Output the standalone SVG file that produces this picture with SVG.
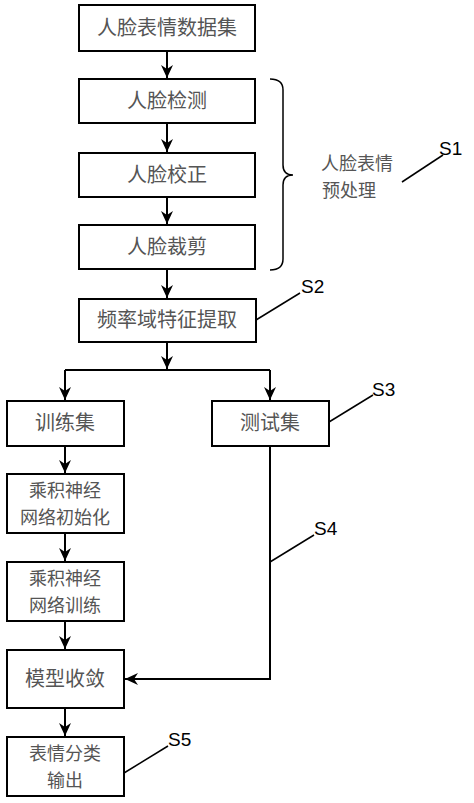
<svg xmlns="http://www.w3.org/2000/svg" width="474" height="803" viewBox="0 0 474 803">
<defs>
<marker id="ah" markerWidth="14" markerHeight="12" refX="13" refY="6" orient="auto" markerUnits="userSpaceOnUse" viewBox="0 0 14 12">
<path d="M0,0 L4,6 L0,12 L13,6 Z" fill="#000"/>
</marker>
</defs>
<style>
.box{fill:#fff;stroke:#000;stroke-width:2}
.t{font-family:"Noto Sans CJK SC",sans-serif;font-size:20px;fill:#555;text-anchor:middle}
.t2{font-family:"Noto Sans CJK SC",sans-serif;font-size:18px;fill:#555;text-anchor:middle}
.s{font-family:"Liberation Sans",Arial,sans-serif;font-size:19px;fill:#000}
.c{fill:none;stroke:#000;stroke-width:2}
.l{fill:none;stroke:#000;stroke-width:1.5}
</style>
<rect width="474" height="803" fill="#fff"/>
<g id="connectors">
<path class="c" d="M167,51 V78" marker-end="url(#ah)"/>
<path class="c" d="M167,123 V152" marker-end="url(#ah)"/>
<path class="c" d="M167,197 V224" marker-end="url(#ah)"/>
<path class="c" d="M167,269 V298" marker-end="url(#ah)"/>
<path class="c" d="M167,342 V369" marker-end="url(#ah)"/>
<path class="c" d="M65,370 H270"/>
<path class="c" d="M65,370 V400" marker-end="url(#ah)"/>
<path class="c" d="M270,370 V400" marker-end="url(#ah)"/>
<path class="c" d="M65,446 V473" marker-end="url(#ah)"/>
<path class="c" d="M65,533 V561" marker-end="url(#ah)"/>
<path class="c" d="M65,621 V649" marker-end="url(#ah)"/>
<path class="c" d="M65,708 V736" marker-end="url(#ah)"/>
<path class="c" d="M270,446 V679 H125" marker-end="url(#ah)"/>
</g>
<g id="n1"><rect class="box" x="79" y="5" width="176" height="46"/><text class="t" x="167" y="35">人脸表情数据集</text></g>
<g id="n2"><rect class="box" x="79" y="79" width="176" height="44"/><text class="t" x="167" y="108">人脸检测</text></g>
<g id="n3"><rect class="box" x="79" y="153" width="176" height="44"/><text class="t" x="167" y="182">人脸校正</text></g>
<g id="n4"><rect class="box" x="79" y="225" width="176" height="44"/><text class="t" x="167" y="254">人脸裁剪</text></g>
<g id="n5"><rect class="box" x="79" y="299" width="177" height="43"/><text class="t" x="167" y="327">频率域特征提取</text></g>
<g id="n6"><rect class="box" x="7" y="401" width="117" height="45"/><text class="t" x="65" y="430">训练集</text></g>
<g id="n7"><rect class="box" x="212" y="401" width="117" height="45"/><text class="t" x="270" y="430">测试集</text></g>
<g id="n8"><rect class="box" x="7" y="474" width="117" height="59"/><text class="t2" x="65" y="497">乘积神经<tspan x="65" dy="27">网络初始化</tspan></text></g>
<g id="n9"><rect class="box" x="7" y="562" width="117" height="59"/><text class="t2" x="65" y="585">乘积神经<tspan x="65" dy="27">网络训练</tspan></text></g>
<g id="n10"><rect class="box" x="7" y="650" width="117" height="58"/><text class="t" x="65" y="686">模型收敛</text></g>
<g id="n11"><rect class="box" x="7" y="737" width="117" height="59"/><text class="t2" x="65" y="760">表情分类<tspan x="65" dy="27">输出</tspan></text></g>
<g id="brace">
<path class="l" d="M270,79 Q283,79 283,90 V165 Q283,175 293,175 Q283,175 283,185 V259 Q283,270 270,270"/>
<text class="t2" x="357" y="170">人脸表情<tspan x="349" dy="27">预处理</tspan></text>
</g>
<g id="labels">
<path class="l" d="M402,182 L443,155"/><text class="s" x="439" y="155">S1</text>
<path class="l" d="M256,320 L300,293"/><text class="s" x="301" y="293">S2</text>
<path class="l" d="M329,422 L373,395"/><text class="s" x="372" y="396">S3</text>
<path class="l" d="M270,562 L314,535"/><text class="s" x="314" y="535">S4</text>
<path class="l" d="M124,773 L168,746"/><text class="s" x="168" y="746">S5</text>
</g>
</svg>
